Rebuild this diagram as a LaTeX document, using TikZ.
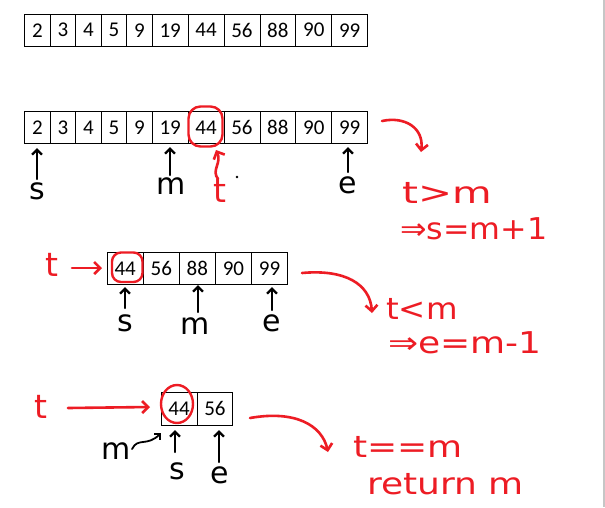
\documentclass[tikz,border=0pt]{standalone}
\usepackage{fontspec}
\usetikzlibrary{arrows.meta}
\newfontfamily\cellfont{Carlito}
\newfontfamily\handfont{DejaVu Sans}
\newfontfamily\redhand[FakeStretch=1.2]{DejaVu Sans}
\definecolor{ink}{HTML}{ED1C24}
\begin{document}
\begin{tikzpicture}[x=1pt,y=-1pt,
  cell/.style={draw=black, line width=0.8pt, minimum height=31.7pt, inner sep=0pt, anchor=west,
    font=\cellfont\fontsize{21}{21}\selectfont},
  blk/.style={black, line width=2.3pt, line cap=round, line join=round,
    -{Straight Barb[length=5pt,width=10pt]}},
  redarr/.style={ink, line width=2.6pt, line cap=round, line join=round,
    -{Straight Barb[length=6pt,width=12pt]}},
  ring/.style={ink, line width=2.4pt},
  lbl/.style={font=\handfont\fontsize{30}{30}\selectfont, inner sep=0pt},
  tlbl/.style={text=ink, font=\handfont\fontsize{33}{33}\selectfont, inner sep=0pt},
  rtxt/.style={text=ink, font=\redhand\fontsize{30}{32}\selectfont, inner sep=0pt, anchor=west}]
\useasboundingbox (0,0) rectangle (605,507);
\fill[white] (0,0) rectangle (605,507);
\draw[gray!45, line width=1.2pt] (604,0) -- (604,507);

% ---- row 1
\foreach \t [count=\i] in {2,3,4,5,9}
  \node[cell, minimum width=25.5pt] (a\i) at ({24.3+(\i-1)*25.5},30.2) {\t};
\foreach \t [count=\i from 6] in {19,44,56,88,90,99}
  \node[cell, minimum width=35.9pt] (a\i) at ({151.8+(\i-6)*35.9},30.2) {\t};

% ---- row 2
\foreach \t [count=\i] in {2,3,4,5,9}
  \node[cell, minimum width=25.5pt] (b\i) at ({24.3+(\i-1)*25.5},127.5) {\t};
\foreach \t [count=\i from 6] in {19,44,56,88,90,99}
  \node[cell, minimum width=35.9pt] (b\i) at ({151.8+(\i-6)*35.9},127.5) {\t};
\draw[ring, rounded corners=12pt] (188.5,106.5) rectangle (222.5,146.5);

\node[lbl] (s1) at (37,191) {s};
\node[lbl] (m1) at (171,186) {m};
\node[tlbl] (t1) at (220,191) {t};
\node[lbl] (e1) at (348,185) {e};
\coordinate (s1tip) at (37,148);
\coordinate (m1tip) at (170,147);
\coordinate (t1tip) at (216,150);
\coordinate (e1tip) at (348,147);
\draw[blk] (37,179) -- (s1tip);
\draw[blk] (170,175) -- (m1tip);
\draw[redarr] (218,179) .. controls (211,170) and (222,163) .. (t1tip);
\draw[blk] (348,172) -- (e1tip);
\fill (237,177) circle (1.3pt);

\coordinate (r1a) at (382,121);
\coordinate (r1b) at (421,152);
\draw[redarr] (r1a) .. controls (405,116) and (424,128) .. (r1b);
\node[rtxt] (c1txt) at (402,193) {\scalebox{1.13}[1]{t>m}};
\node[rtxt] (c2txt) at (400,229) {\scalebox{0.88}[1]{⇒s=m+1}};

% ---- row 3
\foreach \t [count=\i] in {44,56,88,90,99}
  \node[cell, minimum width=36.1pt, minimum height=32pt] (c\i) at ({106.7+(\i-1)*36.1},268.3) {\t};
\draw[ring, rounded corners=9pt] (112,252.5) rectangle (142.5,282);

\node[tlbl] (t2) at (52,265) {t};
\coordinate (t2tip) at (102,268);
\draw[redarr] (72,268) -- (t2tip);
\node[lbl] (s2) at (125,323) {s};
\node[lbl] (m2) at (195,326) {m};
\node[lbl] (e2) at (272,323) {e};
\coordinate (s2tip) at (125,287);
\coordinate (m2tip) at (198,285);
\coordinate (e2tip) at (272,287);
\draw[blk] (125,308) -- (s2tip);
\draw[blk] (198,312) -- (m2tip);
\draw[blk] (272,310) -- (e2tip);

\coordinate (r2a) at (302,273);
\coordinate (r2b) at (372,313);
\draw[redarr] (r2a) .. controls (345,269) and (370,284) .. (r2b);
\node[rtxt] (c3txt) at (386,309) {\scalebox{0.9}[1]{t<m}};
\node[rtxt] (c4txt) at (388,343) {⇒e=m-1};

% ---- row 4
\node[cell, minimum width=36pt, minimum height=32.3pt] (d1) at (160.7,408.9) {44};
\node[cell, minimum width=35.6pt, minimum height=32.3pt] (d2) at (196.7,408.9) {56};
\draw[ring] (177,404) ellipse [x radius=16, y radius=19];

\node[tlbl] (t3) at (41,407) {t};
\coordinate (t3tip) at (150,407);
\draw[redarr] (68,408) -- (t3tip);
\node[lbl] (m3) at (116,451) {m};
\coordinate (m3tip) at (161,433);
\draw[black, line width=1.8pt, line cap=round, -{Straight Barb[length=4pt,width=8pt]}]
  (132,449) .. controls (138,437) and (147,447) .. (m3tip);
\node[lbl] (s3) at (177,471) {s};
\node[lbl] (e3) at (220,475) {e};
\coordinate (s3tip) at (175,430);
\coordinate (e3tip) at (219,430);
\draw[blk] (175,452) -- (s3tip);
\draw[blk] (219,462) -- (e3tip);

\coordinate (r3a) at (250,418);
\coordinate (r3b) at (328,452);
\draw[redarr] (r3a) .. controls (295,410) and (322,425) .. (r3b);
\node[rtxt] (c5txt) at (353,447) {t==m};
\node[rtxt] (c6txt) at (367,484) {return m};
\end{tikzpicture}
\end{document}
